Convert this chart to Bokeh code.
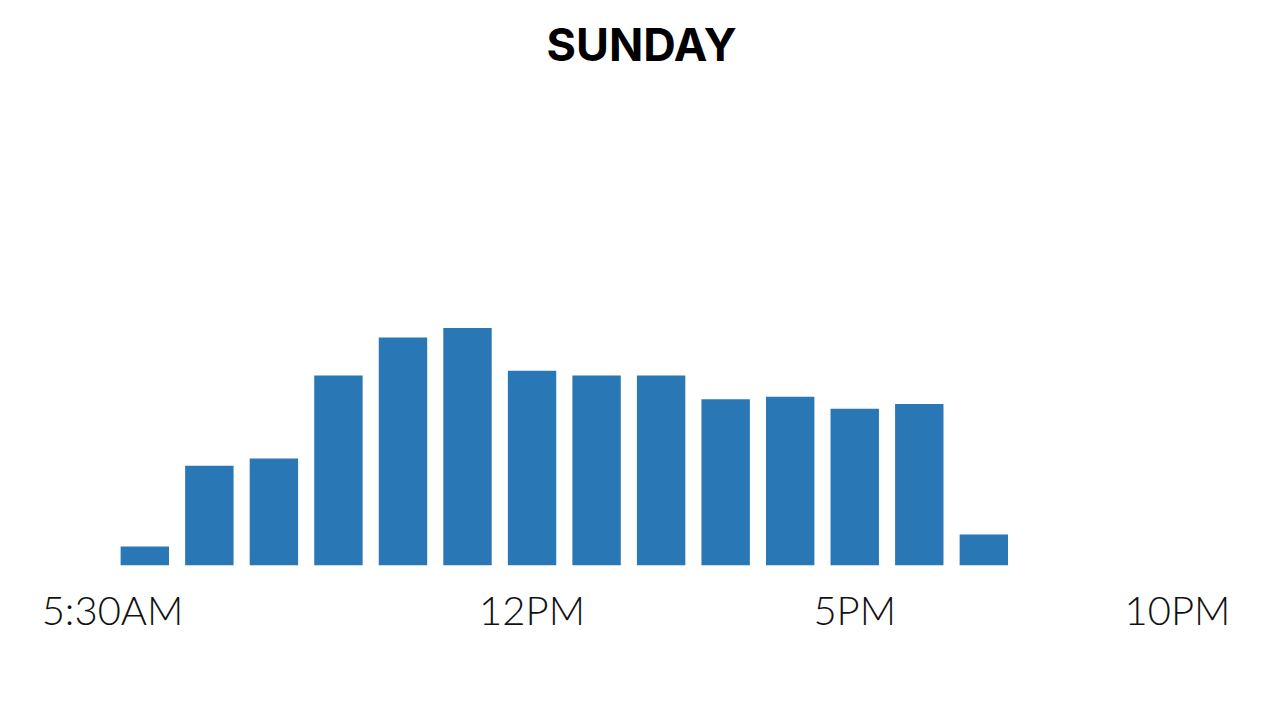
from bokeh.plotting import figure
from bokeh.models import Range1d, FixedTicker
from bokeh.embed import file_html
from bokeh.resources import INLINE

# Data
title_text = "SUNDAY"
hours = [6, 7, 8, 9, 10, 11, 12, 13, 14, 15, 16, 17, 18, 19]
busyness = [8, 42, 45, 80, 96, 100, 82, 80, 80, 70, 71, 66, 68, 13]
tick_hours = [5.5, 12, 17, 22]
tick_labels = ["5:30AM", "12PM", "5PM", "10PM"]

BAR_COLOR = "#2977b5"

p = figure(
    width=1264, height=636,
    x_range=Range1d(3.764, 23.349),
    y_range=Range1d(0, 202),
    output_backend="svg", toolbar_location=None,
    min_border_left=0, min_border_right=0, min_border_top=0, min_border_bottom=0,
    title=title_text,
)
p.title.align = "left"
p.title.offset = 532
p.title.text_font = "Inter"
p.title.text_font_style = "bold"
p.title.text_font_size = "45px"
p.title.text_color = "#000000"
p.title.standoff = 0
p.title.padding = 14

p.vbar(x=hours, top=busyness, bottom=0, width=0.75, fill_color=BAR_COLOR, line_color=None)

p.yaxis.visible = False
p.xgrid.visible = False
p.ygrid.visible = False
p.outline_line_color = None

ax = p.xaxis[0]
ax.ticker = FixedTicker(ticks=tick_hours)
ax.major_label_overrides = {t: l for t, l in zip(tick_hours, tick_labels)}
ax.axis_line_color = None
ax.major_tick_line_color = None
ax.minor_tick_line_color = None
ax.major_tick_out = 0
ax.major_tick_in = 0
ax.major_label_standoff = 20
ax.major_label_text_font = "Lato Light"
ax.major_label_text_font_size = "40px"
ax.major_label_text_color = "#111111"

open("out.html", "w").write(file_html(p, INLINE))
